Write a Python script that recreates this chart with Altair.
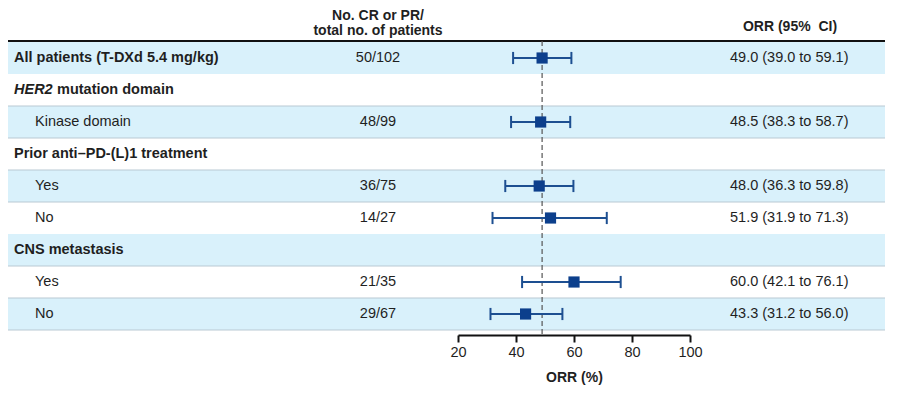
import altair as alt
import pandas as pd

# ---- data ----
row_labels = ["All patients (T-DXd 5.4 mg/kg)", "mutation domain", "Kinase domain",
              "Prior anti\u2013PD-(L)1 treatment", "Yes", "No", "CNS metastasis", "Yes", "No"]
label_prefix = ["", "HER2", "", "", "", "", "", "", ""]
row_kind = ["header", "header", "sub", "header", "sub", "sub", "header", "sub", "sub"]
counts = ["50/102", "", "48/99", "", "36/75", "14/27", "", "21/35", "29/67"]
orr = [49.0, None, 48.5, None, 48.0, 51.9, None, 60.0, 43.3]
ci_low = [39.0, None, 38.3, None, 36.3, 31.9, None, 42.1, 31.2]
ci_high = [59.1, None, 58.7, None, 59.8, 71.3, None, 76.1, 56.0]
band_rows = [0, 2, 4, 6, 8]
separator_rows = [2, 3, 4, 5, 7, 8, 9]
x_ticks = [20, 40, 60, 80, 100]
reference_orr = [49.0]
col_header_counts = ["No. CR or PR/", "total no. of patients"]
col_header_orr = "ORR (95%\u00a0 CI)"
x_title = "ORR (%)"

FONT = "Liberation Sans"
TXT = "#1f1f1f"
BAND = "#d9f1fb"
SEP = "#b9cad4"
MARK = "#0c3f8c"
LINE = "#1d4f91"
FS = 14.5

df = pd.DataFrame({
    "row": list(range(len(row_labels))),
    "label": row_labels,
    "prefix": label_prefix,
    "kind": row_kind,
    "count": counts,
    "orr": orr,
    "lo": ci_low,
    "hi": ci_high,
})
df["mid"] = df["row"] + 0.5
df["cap_top"] = df["mid"] - 0.19
df["cap_bot"] = df["mid"] + 0.19
df["orr_text"] = [
    f"{o:.1f} ({l:.1f} to {h:.1f})" if pd.notna(o) else ""
    for o, l, h in zip(df["orr"], df["lo"], df["hi"])
]
est = df.dropna(subset=["orr"])

bands = pd.DataFrame({"row": band_rows})
bands["row_end"] = bands["row"] + 1
seps = pd.DataFrame({"pos": separator_rows})
ref = pd.DataFrame({"ref": reference_orr})

yscale = alt.Scale(domain=[0, 9], range=[34, 322], nice=False, zero=False)
xscale = alt.Scale(domain=[20, 100], range=[450, 682], nice=False, zero=False)
xaxis = alt.Axis(values=x_ticks, title=x_title, grid=False, labelFlush=False)

def X(field):
    return alt.X(f"{field}:Q", scale=xscale, axis=xaxis)

def Y(field):
    return alt.Y(f"{field}:Q", scale=yscale, axis=None)

band_layer = alt.Chart(bands).mark_rect(color=BAND).encode(
    x=alt.value(0), x2=alt.value(877), y=Y("row"), y2="row_end:Q")

sep_layer = alt.Chart(seps).mark_rule(color=SEP, strokeWidth=1.2).encode(
    x=alt.value(0), x2=alt.value(877), y=Y("pos"))

header_line = alt.Chart(ref).mark_rule(color="#111111", strokeWidth=2).encode(
    x=alt.value(0), x2=alt.value(877), y=alt.value(33))

ref_layer = alt.Chart(ref).mark_rule(color="#555555", strokeWidth=1.2, strokeDash=[5, 3]).encode(
    x=X("ref"), y=alt.value(33), y2=alt.value(327))

ci_layer = alt.Chart(est).mark_rule(color=LINE, strokeWidth=2).encode(
    x=X("lo"), x2="hi:Q", y=Y("mid"))
cap_lo = alt.Chart(est).mark_rule(color=LINE, strokeWidth=2).encode(
    x=X("lo"), y=Y("cap_top"), y2="cap_bot:Q")
cap_hi = alt.Chart(est).mark_rule(color=LINE, strokeWidth=2).encode(
    x=X("hi"), y=Y("cap_top"), y2="cap_bot:Q")
sq_layer = alt.Chart(est).mark_square(size=125, color=MARK, opacity=1).encode(
    x=X("orr"), y=Y("mid"))

def txt(**kw):
    base = dict(font=FONT, fontSize=FS, color=TXT, baseline="middle")
    base.update(kw)
    return base

hdr = df[(df["kind"] == "header") & (df["prefix"] == "")]
sub = df[df["kind"] == "sub"]
pref = df[df["prefix"] != ""]

hdr_text = alt.Chart(hdr).mark_text(**txt(align="left", fontWeight="bold")).encode(
    x=alt.value(6), y=Y("mid"), text="label:N")
sub_text = alt.Chart(sub).mark_text(**txt(align="left")).encode(
    x=alt.value(27), y=Y("mid"), text="label:N")
pref_text = alt.Chart(pref).mark_text(**txt(align="left", fontWeight="bold", fontStyle="italic")).encode(
    x=alt.value(6), y=Y("mid"), text="prefix:N")
pref_rest = alt.Chart(pref).mark_text(**txt(align="left", fontWeight="bold")).encode(
    x=alt.value(49), y=Y("mid"), text="label:N")

count_text = alt.Chart(df[df["count"] != ""]).mark_text(**txt(align="center")).encode(
    x=alt.value(370), y=Y("mid"), text="count:N")
orr_text = alt.Chart(est).mark_text(**txt(align="left")).encode(
    x=alt.value(722), y=Y("mid"), text="orr_text:N")

ch = pd.DataFrame({"t": col_header_counts, "yy": [7.5, 22.5]})
colhdr1 = alt.Chart(ch).mark_text(**txt(align="center", fontWeight="bold", fontSize=14)).encode(
    x=alt.value(370), y=alt.Y("yy:Q", scale=None, axis=None), text="t:N")
colhdr2 = alt.Chart(pd.DataFrame({"t": [col_header_orr]})).mark_text(
    **txt(align="center", fontWeight="bold", fontSize=14)).encode(
    x=alt.value(782), y=alt.value(19), text="t:N")

chart = alt.layer(
    band_layer, sep_layer, header_line, ref_layer, ci_layer, cap_lo, cap_hi, sq_layer,
    hdr_text, sub_text, pref_text, pref_rest, count_text, orr_text, colhdr1, colhdr2,
).properties(
    width=900, height=327,
    padding={"left": 0, "top": 0, "right": 0, "bottom": 50},
    autosize=alt.AutoSizeParams(type="none"),
).configure_view(stroke=None).configure_axis(
    domainColor="#111111", domainWidth=2, tickColor="#111111", tickWidth=2, tickSize=7,
    labelFont=FONT, labelFontSize=FS, labelColor=TXT, labelPadding=3,
    titleFont=FONT, titleFontSize=14, titleFontWeight="bold", titleColor=TXT, titlePadding=12,
)

chart.save("out.html", embed_options={"renderer": "svg", "actions": False})
